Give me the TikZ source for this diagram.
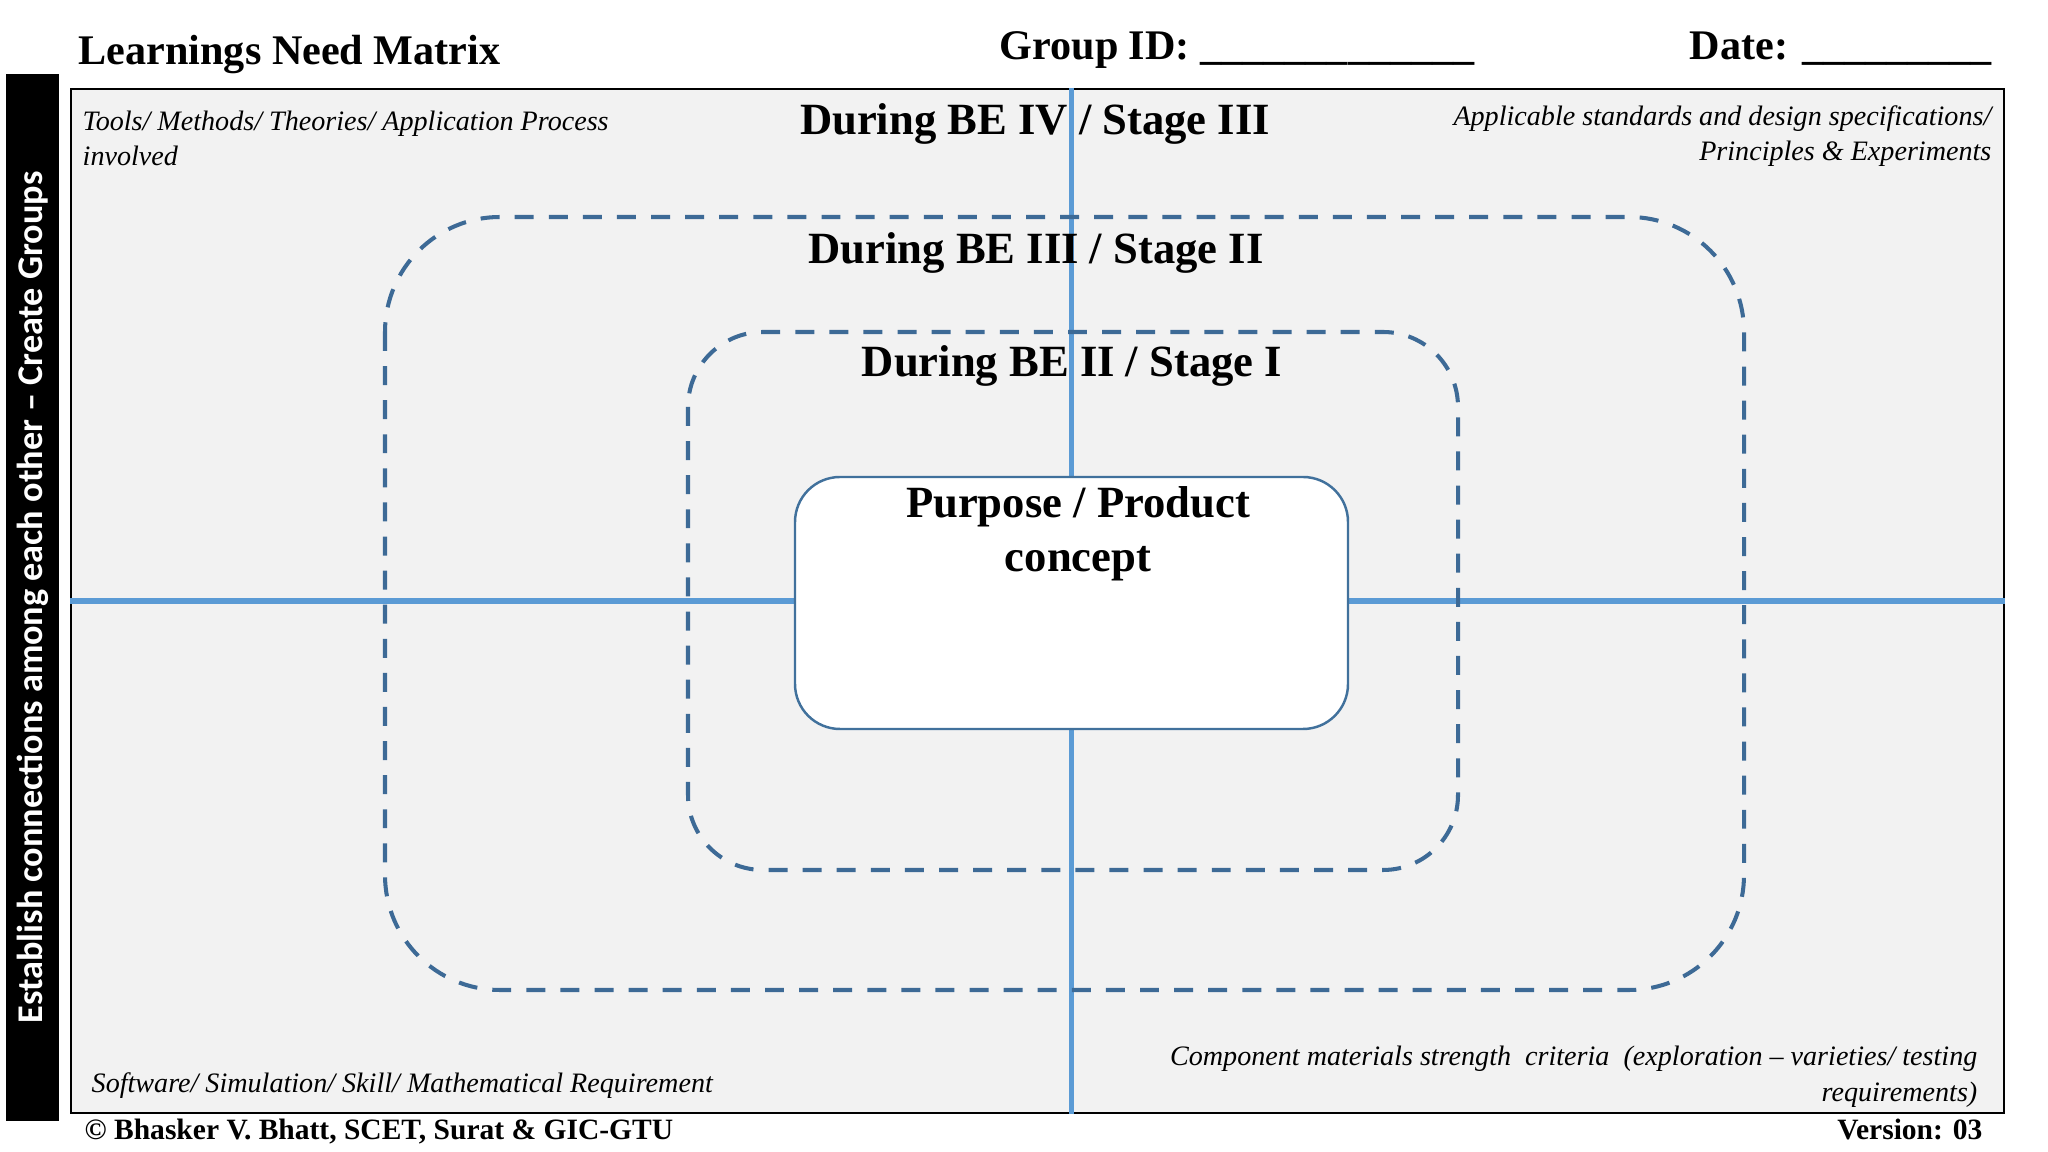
\documentclass[tikz,border=0pt]{standalone}
\usepackage{fontspec}
\setmainfont{Liberation Serif}
\newfontfamily\barfont{Carlito}
\usetikzlibrary{positioning}
\definecolor{boxgray}{HTML}{F2F2F2}
\definecolor{axisblue}{HTML}{5B9BD5}
\definecolor{edgeblue}{HTML}{41719C}
\definecolor{ringblue}{HTML}{3D6A96}

\begin{document}
\begin{tikzpicture}[x=0.1mm, y=-0.1mm,
  axisline/.style={draw=axisblue, line width=1.6pt},
  ring/.style={draw=ringblue, line width=1.15pt, dash pattern=on 5.4pt off 4.3pt},
  stage/.style={anchor=base, inner sep=0, font=\bfseries\fontsize{12.7}{15.4}\selectfont},
  head/.style={anchor=base west, inner sep=0, font=\bfseries\fontsize{12}{14}\selectfont},
  note/.style={inner sep=0, font=\itshape\fontsize{8}{10}\selectfont},
  foot/.style={inner sep=0, font=\bfseries\fontsize{8.4}{10}\selectfont}
]
\useasboundingbox (0,0) rectangle (2048,1152);

% side bar
\node[fill=black, text=white, rotate=90, inner sep=0, minimum width=104.7mm, minimum height=5.3mm,
  font=\barfont\bfseries\fontsize{10.3}{12}\selectfont] (bar) at (32.5,597.5)
  {Establish connections among each other – Create Groups};

% heading line
\node[head] (title) at (78,65) {Learnings Need Matrix};
\node[head] (groupid) at (999,60) {Group ID: \_\_\_\_\_\_\_\_\_\_\_\_\_};
\node[head] (date) at (1689,60) {Date: \_\_\_\_\_\_\_\_\_};

% matrix frame
\node[draw=black, line width=0.6pt, fill=boxgray, anchor=north west, inner sep=0,
  minimum width=193.3mm, minimum height=102.4mm] (frame) at (70,88) {};

% centre box
\coordinate (mid) at (1071.5,601);
\draw[axisline] (mid) -- (mid |- frame.north);
\draw[axisline] (mid) -- (mid |- frame.south);
\draw[axisline] (mid) -- (mid -| frame.west);
\draw[axisline] (mid) -- (mid -| frame.east);

% stages
\draw[ring, rounded corners=11.5mm] (385,217) rectangle (1744,990);
\draw[ring, rounded corners=7.5mm] (688,332) rectangle (1458,870);

\node[draw=edgeblue, line width=0.7pt, fill=white, rounded corners=4.5mm, inner sep=0,
  minimum width=55.3mm, minimum height=25.2mm] (core) at (1071.5,603) {};
\node[stage, align=center] (purpose) at (1078,572) {Purpose / Product\\concept};

\node[stage] (stage3) at (1035,135) {During BE IV / Stage III};
\node[stage] (stage2) at (1036,264) {During BE III / Stage II};
\node[stage] (stage1) at (1072,377) {During BE II / Stage I};

% corner notes
\node[note, anchor=base west, align=left] (tools) at (82,166)
  {Tools/ Methods/ Theories/ Application Process\\involved};
\node[note, anchor=base east, align=right] (standards) at (1992,161)
  {Applicable standards and design specifications/\\Principles \& Experiments};
\node[note, anchor=base west] (software) at (91,1093)
  {Software/ Simulation/ Skill/ Mathematical Requirement};
\node[note, anchor=base east, align=right] (materials) at (1978,1101)
  {Component materials strength\ \ criteria\ \ (exploration – varieties/ testing\\requirements)};

% footer
\node[foot, anchor=base west] (author) at (84,1140) {© Bhasker V. Bhatt, SCET, Surat \& GIC-GTU};
\node[foot, anchor=base east] (version) at (1983,1140) {Version: 03};

\end{tikzpicture}
\end{document}
